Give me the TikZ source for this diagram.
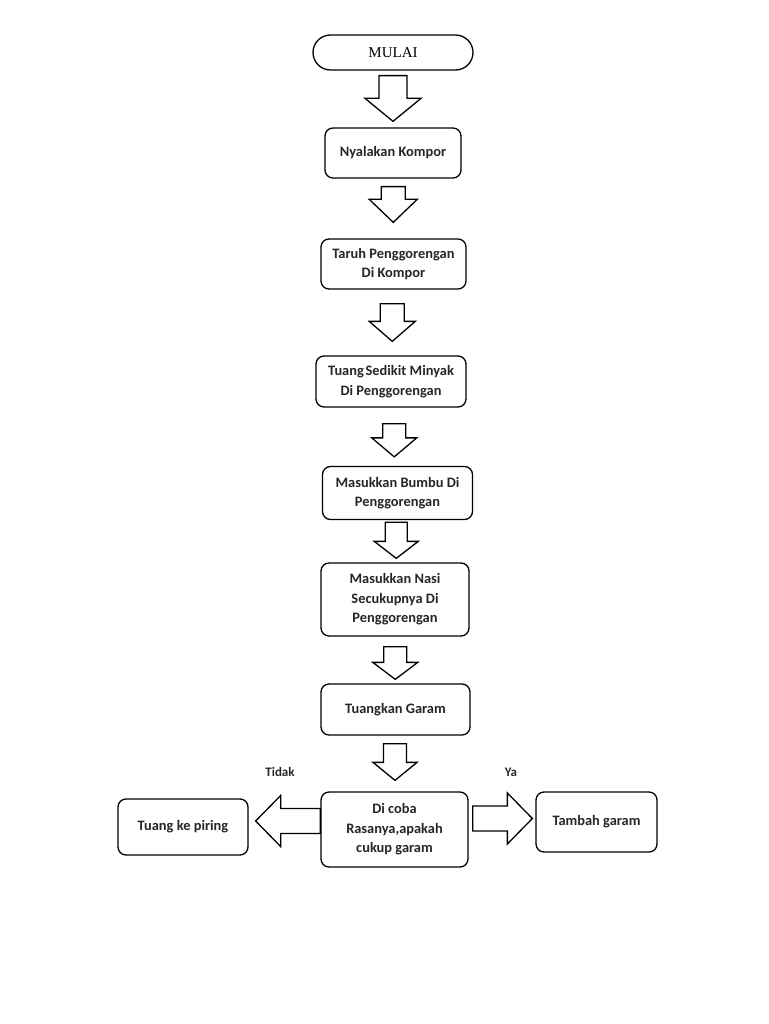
\documentclass[tikz,border=0pt]{standalone}
\usepackage{fontspec}
\setmainfont{Carlito}
\newfontfamily\mulaifont{Liberation Serif}
\usetikzlibrary{calc,shapes.misc}

% down block arrow: from, to, top gap, tip gap, shaft half, head half, head length
\newcommand{\flowdown}[7]{%
  \draw[blockarrow] let \p1=(#1.south), \p2=(#2.north), \n1={0.5*(\x1+\x2)} in
    ({\n1-#5pt},{\y1-#3pt}) -- ({\n1-#5pt},{\y2+#4pt+#7pt}) -- ({\n1-#6pt},{\y2+#4pt+#7pt})
    -- (\n1,{\y2+#4pt}) -- ({\n1+#6pt},{\y2+#4pt+#7pt}) -- ({\n1+#5pt},{\y2+#4pt+#7pt})
    -- ({\n1+#5pt},{\y1-#3pt}) -- cycle;}

\begin{document}
\begin{tikzpicture}[x=1pt, y=-1pt,
  stepbox/.style={draw, line width=1.3pt, rounded corners=8pt, align=center, inner sep=0pt,
    font=\bfseries\fontsize{14.4}{19.5}\selectfont, text=black!85},
  startbox/.style={draw, line width=1.3pt, rounded rectangle, inner sep=0pt,
    minimum width=160pt, minimum height=35pt, font=\mulaifont\fontsize{15}{18}\selectfont},
  blockarrow/.style={draw, line width=1.3pt, line join=miter, fill=white},
  lbl/.style={font=\bfseries\fontsize{13}{16}\selectfont, text=black!85}]
  \useasboundingbox (0,0) rectangle (768,1024);

  % main column
  \node[startbox] (mulai) at (393,52.5) {MULAI};
  \node[stepbox, minimum width=136pt, minimum height=50pt] (kompor) at (393,153) {Nyalakan Kompor};
  \node[stepbox, minimum width=145pt, minimum height=50pt] (taruh) at (393.5,264) {Taruh Penggorengan\\Di Kompor};
  \node[stepbox, minimum width=150pt, minimum height=51pt] (minyak) at (391,381.5) {Tuang\hspace{-1.5pt} Sedikit Minyak\\Di Penggorengan};
  \node[stepbox, minimum width=150pt, minimum height=53pt] (bumbu) at (397.5,493) {Masukkan Bumbu Di\\Penggorengan};
  \node[stepbox, minimum width=148pt, minimum height=73pt] (nasi) at (395,599.5) {Masukkan Nasi\\Secukupnya Di\\Penggorengan};
  \node[stepbox, minimum width=149pt, minimum height=51pt] (garam) at (395.5,709.5) {Tuangkan Garam};
  \node[stepbox, minimum width=147pt, minimum height=75pt] (coba) at (394.5,829.5) {Di coba\\Rasanya,apakah\\cukup garam};

  % branches
  \node[stepbox, minimum width=130pt, minimum height=56pt] (piring) at (183,827) {Tuang ke piring};
  \node[stepbox, minimum width=121pt, minimum height=60pt] (tambah) at (596.5,822) {Tambah garam};
  \node[lbl] (tidak) at (280,772) {Tidak};
  \node[lbl] (ya) at (511,772) {Ya};

  % block arrows down
  \foreach \a/\b/\g/\h/\s/\w/\l in {mulai/kompor/5/6/14/28/23, kompor/taruh/8/16/12/24/23,
      taruh/minyak/14/14/12/23/20, minyak/bumbu/16/9/11.5/22.5/19, bumbu/nasi/2/4/11/22/17,
      nasi/garam/10/4/11.5/22.5/17, garam/coba/8/11/11.5/22/18}
    \flowdown{\a}{\b}{\g}{\h}{\s}{\w}{\l};

  % Tidak: to the left
  \draw[blockarrow] let \p1=(coba.west), \p2=(piring.east) in
    (\x1,{\y2+18.5pt}) -- ({\x2+32pt},{\y2+18.5pt}) -- ({\x2+32pt},{\y2+31.5pt}) -- ({\x2+7pt},{\y2+6pt})
    -- ({\x2+32pt},{\y2-19.5pt}) -- ({\x2+32pt},{\y2-6.5pt}) -- (\x1,{\y2-6.5pt}) -- cycle;
  % Ya: to the right
  \draw[blockarrow] let \p1=(coba.east), \p2=(tambah.west) in
    ({\x1+4pt},{\y2+16pt}) -- ({\x2-28pt},{\y2+16pt}) -- ({\x2-28pt},{\y2+29pt}) -- ({\x2-3pt},{\y2+3.5pt})
    -- ({\x2-28pt},{\y2-22pt}) -- ({\x2-28pt},{\y2-9pt}) -- ({\x1+4pt},{\y2-9pt}) -- cycle;
\end{tikzpicture}
\end{document}
